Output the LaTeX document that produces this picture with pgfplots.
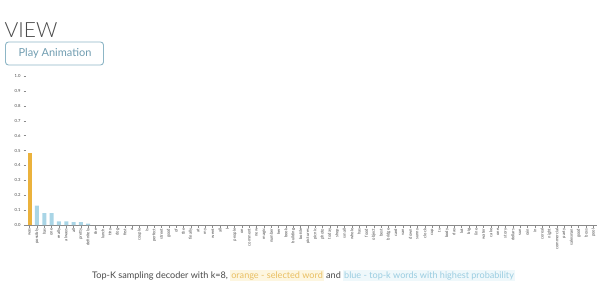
\documentclass[border=0pt]{standalone}
\usepackage{pgfplots}
\pgfplotsset{compat=1.18}
\usepackage{fontspec}
\setmainfont{Lato}
\newfontfamily\lightfont{Lato Light}
\definecolor{barorange}{HTML}{EBB23C}
\definecolor{barblue}{HTML}{A9D5E6}
\definecolor{txtgray}{HTML}{4A4A4A}
\definecolor{axgray}{HTML}{8A8A8A}
\definecolor{btnborder}{HTML}{8DB6C6}
\definecolor{btntext}{HTML}{6F9CB0}
\definecolor{hlorange}{HTML}{E9BF62}
\definecolor{hlorangebg}{HTML}{FDF6E0}
\definecolor{hlblue}{HTML}{9ACDE1}
\definecolor{hlbluebg}{HTML}{EFF8FB}
\begin{document}
\begin{tikzpicture}[x=1pt,y=1pt]
\path[use as bounding box] (0,0) rectangle (600,285);
% title
\node[anchor=base west, inner sep=0pt, text=txtgray, font=\lightfont\fontsize{21}{21}\selectfont] at (4.5,248) {VIEW};
% button
\draw[btnborder, line width=0.9pt, rounded corners=3pt] (5.5,243) rectangle (103.5,220);
\node[text=btntext, font=\fontsize{11}{12}\selectfont, inner sep=0pt] at (55,231.5) {Play Animation};
\begin{axis}[
  at={(26pt,60pt)}, anchor=south west,
  scale only axis, width=571pt, height=149pt,
  xmin=-0.5, xmax=77.5, ymin=0, ymax=1,
  axis lines*=left,
  y axis line style={draw=none},
  x axis line style={axgray, line width=0.5pt},
  tick style={axgray, line width=0.4pt},
  tick align=outside, major tick length=2.5pt,
  ytick={0,0.1,...,1.0},
  yticklabel style={/pgf/number format/fixed, /pgf/number format/fixed zerofill, /pgf/number format/precision=1, font=\fontsize{4.2}{5}\selectfont, text=txtgray, xshift=0.5pt},
  /pgf/number format/assume math mode=true,
  xtick={0,...,77},
  xticklabels={was,possibly,has,one,really,always,all,pretty,definitely,the,lunch,tiny,dog,first,a,couple,is,perfect,street,good,of,the,finally,at,my,went,all,I,people,on,comment,new,magic,number,her,book,building,bottle,pictures,picnic,photo,today,shop,small,whole,has,food,object,best,bridge,card,van,down,sunny,clock,cup,tv,body,day,lot,big,line,water,cake,one,story,dollars,sun,rain,in,cereal,night,commercial,party,salesman,good,boss,pool},
  xticklabel style={rotate=90, anchor=east, font=\fontsize{4.2}{5}\selectfont, text=txtgray, inner sep=1pt},
  clip=false,
]
\addplot[ybar, bar width=4pt, bar shift=0pt, fill=barorange, draw=none] coordinates {(0,0.48)};
\addplot[ybar, bar width=4pt, bar shift=0pt, fill=barblue, draw=none] coordinates {
(1,0.13) (2,0.08) (3,0.08) (4,0.025) (5,0.025) (6,0.02) (7,0.02) (8,0.01)};
\end{axis}
% caption
\node[anchor=base, inner sep=0pt, font=\fontsize{9.1}{11}\selectfont, text=txtgray] at (303.5,7)
{\setlength{\fboxsep}{1pt}Top-K sampling decoder with k=8, \colorbox{hlorangebg}{\textcolor{hlorange}{orange - selected word}} and \colorbox{hlbluebg}{\textcolor{hlblue}{blue - top-k words with highest probability}}};
\end{tikzpicture}
\end{document}
